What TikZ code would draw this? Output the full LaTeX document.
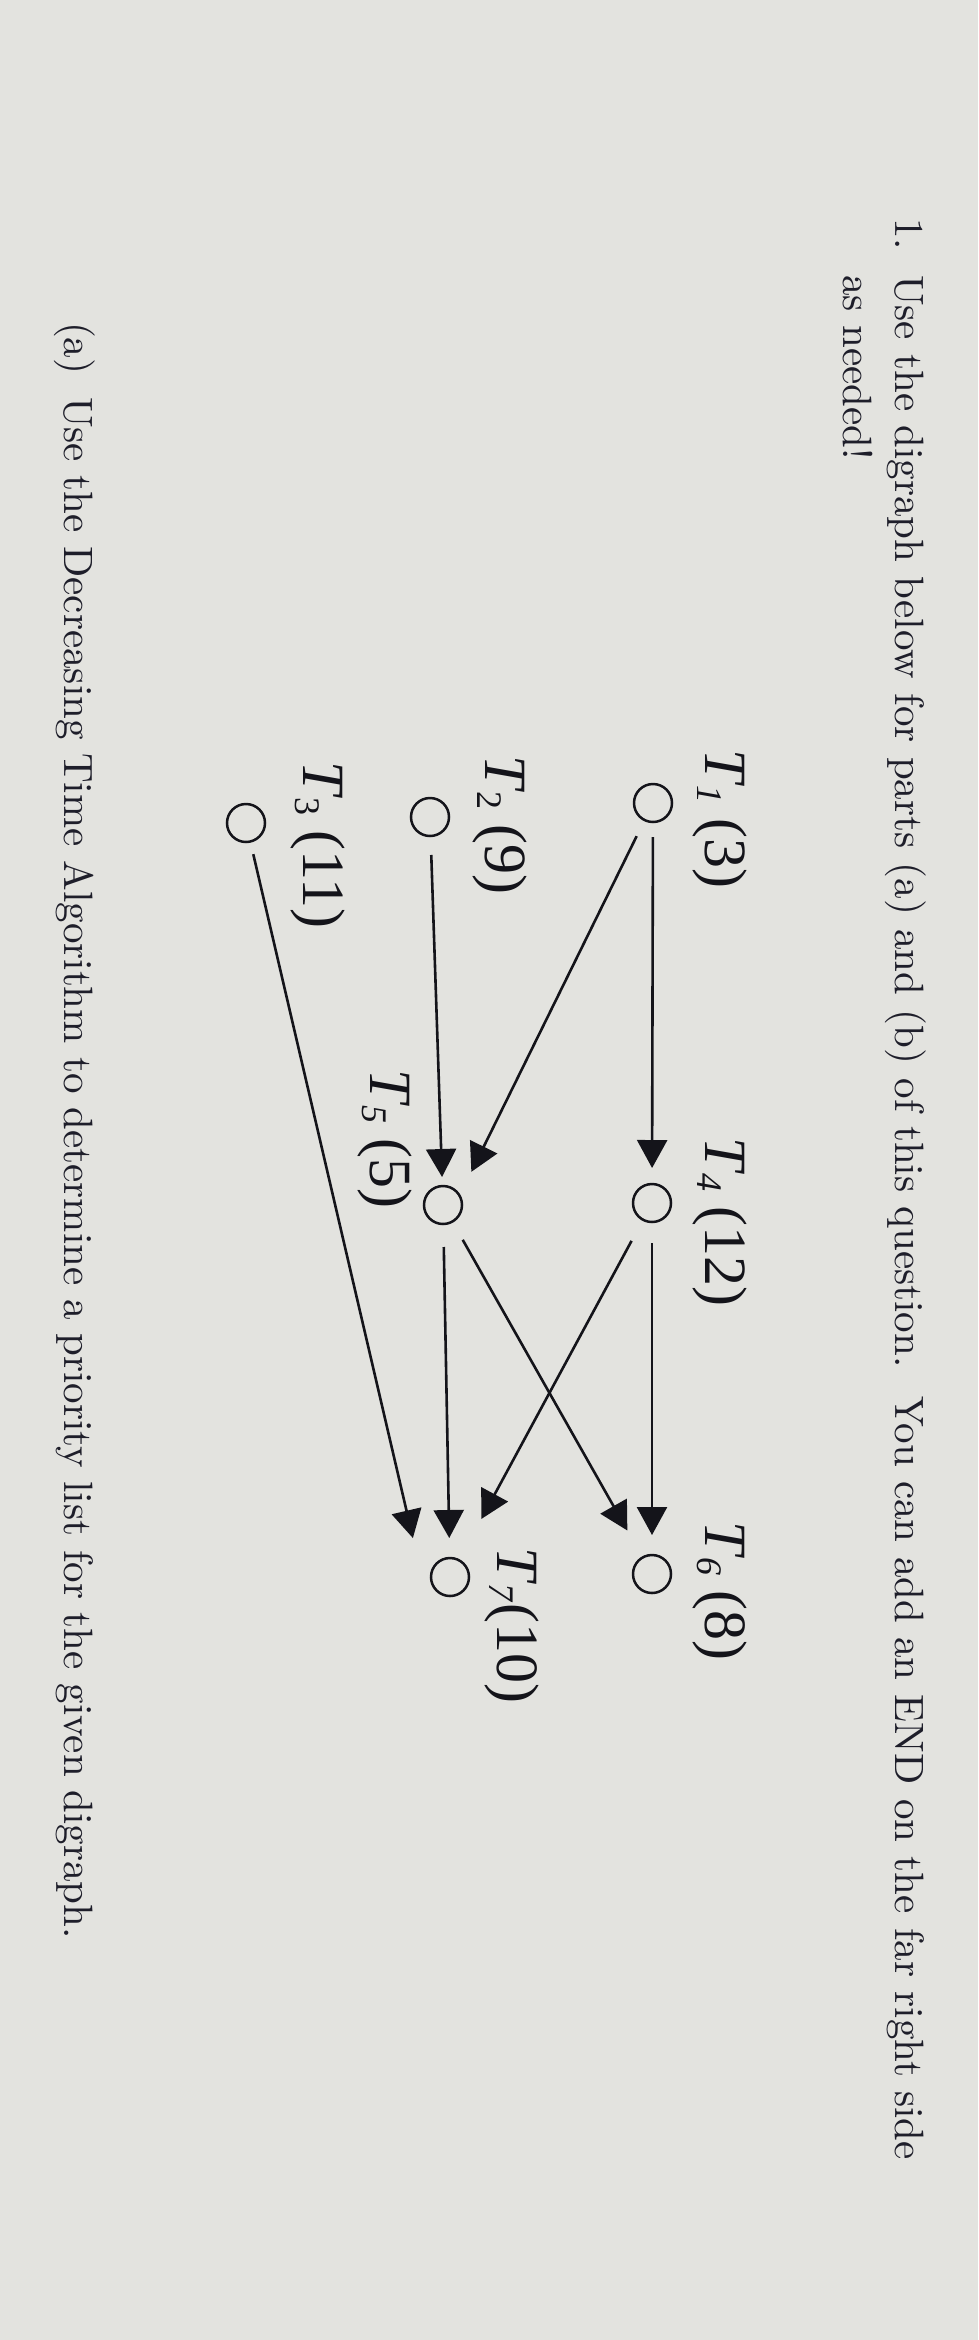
\documentclass[tikz,border=0pt]{standalone}
\usepackage{fontspec}
\setmainfont{lmroman10-regular}[Extension=.otf,ItalicFont=lmroman10-italic,BoldFont=lmroman10-bold]
\newfontfamily\tnr{Liberation Serif}
\usetikzlibrary{arrows.meta,calc}
\definecolor{paper}{RGB}{227,227,223}
\definecolor{ink}{RGB}{30,30,42}
\definecolor{lineink}{RGB}{20,20,26}
\newcommand\tsub[1]{\raisebox{-0.12em}{\fontsize{36}{36}\selectfont #1}}
\begin{document}
\begin{tikzpicture}[x=1pt,y=1pt,
  vtx/.style={circle,draw=lineink,line width=2.5pt,minimum size=38pt,inner sep=0pt,outer sep=0pt},
  edge/.style={draw=lineink,line width=2.6pt,-{Triangle[length=28pt,width=30pt]}},
  body/.style={anchor=base west,inner sep=0pt,outer sep=0pt,text=ink,font=\fontsize{41}{51}\selectfont},
  lab/.style={anchor=base west,inner sep=0pt,outer sep=0pt,text=lineink,font=\tnr\fontsize{60}{60}\selectfont}]
\begin{scope}[rotate=-90,transform shape]
\fill[paper] (0,0) rectangle (2340,978);
% text
\node[body] (num) at (218,895) {1.};
\node[body] (line1) at (275,895) {\makebox[1885pt][s]{Use the digraph below for parts (a) and (b) of this question.\ \ You can add an END on the far right side}};
\node[body] (line2) at (275,843) {as needed!};
\node[body] (parta) at (322,64) {(a)};
\node[body] (linea) at (397,64) {Use the Decreasing Time Algorithm to determine a priority list for the given digraph.};
% vertices
\node[vtx] (T1) at (803,653) {};
\node[vtx] (T2) at (817,430) {};
\node[vtx] (T3) at (823,246) {};
\node[vtx] (T4) at (1203,652) {};
\node[vtx] (T5) at (1205,443) {};
\node[vtx] (T6) at (1574,652) {};
\node[vtx] (T7) at (1577,450) {};
% labels
\node[lab] (L1) at (749,705) {\textit{T}\tsub{\textit{1}} (3)};
\node[lab] (L2) at (755,485) {\textit{T}\tsub{2} (9)};
\node[lab] (L3) at (761,303) {\textit{T}\tsub{3} (11)};
\node[lab] (L4) at (1137,705) {\textit{T}\tsub{\textit{4}} (12)};
\node[lab] (L5) at (1069,370) {\textit{T}\tsub{\textit{5}} (5)};
\node[lab] (L6) at (1521,705) {\textit{T}\tsub{\textit{6}} (8)};
\node[lab] (L7) at (1547,497) {\textit{T}\tsub{\textit{7}}(10)};
% edges
\draw[edge,shorten <=15pt,shorten >=16pt] (T1) -- (T4);
\draw[edge,shorten <=18pt,shorten >=37pt] (T1) -- ($(T5)+(0,12)$);
\draw[edge,shorten <=19pt,shorten >=9pt] (T2) -- (T5);
\draw[edge,shorten <=13pt,shorten >=40pt] (T3) -- ($(T7)+(0,-28)$);
\draw[edge,shorten <=21pt,shorten >=20pt] (T4) -- (T6);
\draw[edge,shorten <=24pt,shorten >=47pt] (T4) -- (T7);
\draw[edge,shorten <=21pt,shorten >=31pt] (T5) -- (T6);
\draw[edge,shorten <=23pt,shorten >=20pt] (T5) -- (T7);
\end{scope}
\end{tikzpicture}
\end{document}
